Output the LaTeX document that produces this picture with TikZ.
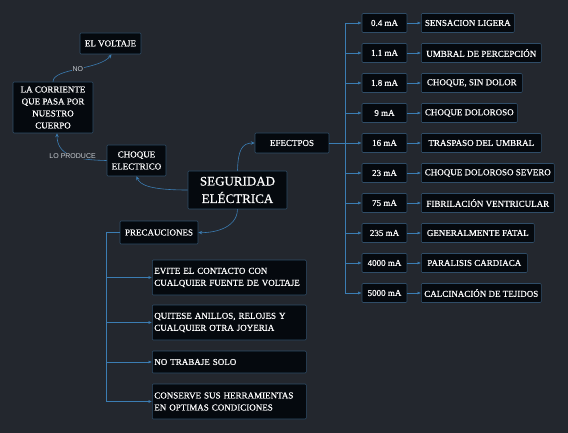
\documentclass[tikz,border=0pt]{standalone}
\usepackage{fontspec}
\setmainfont{Liberation Serif}
\setsansfont{Liberation Sans}
\newfontfamily\boxfont{Liberation Serif}[BoldFont=Liberation Serif,BoldFeatures={FakeBold=0.5}]
\usetikzlibrary{arrows.meta}
\definecolor{BgClr}{HTML}{23272E}
\definecolor{BoxClr}{HTML}{05090E}
\definecolor{EdgeClr}{HTML}{2F4D68}
\definecolor{LinkClr}{HTML}{3B7DB3}
\definecolor{LblClr}{HTML}{C8CDD2}

\tikzset{
  box/.style={draw=EdgeClr,fill=BoxClr,text=white,line width=0.6pt,rounded corners=1pt,
    inner sep=2pt,font=\boxfont\bfseries\fontsize{9}{12}\selectfont,align=center},
  link/.style={draw=LinkClr,line width=0.6pt,-{Stealth[length=4pt,width=3.5pt,inset=1.5pt]}},
  bus/.style={draw=LinkClr,line width=0.6pt},
  branch/.style={bus,-{Latex[length=3.5pt,width=3pt]}},
  lbl/.style={fill=BgClr,text=LblClr,inner sep=1pt,font=\sffamily\fontsize{7}{8}\selectfont}
}

\begin{document}
\begin{tikzpicture}[x=1pt,y=-1pt]
\fill[BgClr] (0,0) rectangle (568,433);
\useasboundingbox (0,0) rectangle (568,433);

\node[box,minimum width=61pt,minimum height=21pt] (V) at (110.5,43.5) {EL VOLTAJE};
\node[box,minimum width=80pt,minimum height=51pt] (C) at (53,107.5) {LA CORRIENTE\\QUE PASA POR\\NUESTRO\\CUERPO};
\node[box,minimum width=59pt,minimum height=31pt] (Ch) at (136.5,160.5) {CHOQUE\\ELECTRICO};
\node[box,minimum width=99pt,minimum height=38pt,font=\boxfont\bfseries\fontsize{13}{17.5}\selectfont] (S) at (237.5,190) {SEGURIDAD\\ELÉCTRICA};
\node[box,minimum width=74pt,minimum height=20pt] (E) at (292,143) {EFECTPOS};
\node[box,minimum width=78pt,minimum height=23pt] (Pr) at (159,232.5) {PRECAUCIONES};

\node[box,anchor=west,text width=150pt,align=left,minimum height=35pt] (P1) at (152,277.5) {EVITE EL CONTACTO CON\\CUALQUIER FUENTE DE VOLTAJE};
\node[box,anchor=west,text width=150pt,align=left,minimum height=35pt] (P2) at (152,322.5) {QUITESE ANILLOS, RELOJES Y\\CUALQUIER OTRA JOYERIA};
\node[box,anchor=west,text width=150pt,align=left,minimum height=22pt] (P3) at (152,362) {NO TRABAJE SOLO};
\node[box,anchor=west,text width=150pt,align=left,minimum height=35pt] (P4) at (152,401.5) {CONSERVE SUS HERRAMIENTAS\\EN OPTIMAS CONDICIONES};

\coordinate (Eb) at (345,143);
\coordinate (Pb) at (106,232.5);

\foreach \val/\txt/\bw [count=\i from 0] in {0.4 mA/SENSACION LIGERA/93,1.1 mA/UMBRAL DE PERCEPCIÓN/120,
  1.8 mA/{CHOQUE, SIN DOLOR}/101,9 mA/CHOQUE DOLOROSO/96,16 mA/TRASPASO DEL UMBRAL/120,
  23 mA/CHOQUE DOLOROSO SEVERO/133,75 mA/FIBRILACIÓN VENTRICULAR/133,235 mA/GENERALMENTE FATAL/113,
  4000 mA/PARALISIS CARDIACA/106,5000 mA/CALCINACIÓN DE TEJIDOS/120}{
  \node[box,minimum width=45pt,minimum height=19pt] (M\i) at (384.5,23+30*\i) {\val};
  \node[box,anchor=west,minimum width=\bw pt,minimum height=19pt] (T\i) at (421,23+30*\i) {\txt};
  \draw[branch] (Eb |- M\i) -- (M\i.west);
  \draw[branch] (M\i.east) -- (T\i.west);
}

\draw[bus] (E.east) -- (Eb);
\draw[bus] (Eb |- M0) -- (Eb |- M9);

\draw[bus] (Pr.west) -- (Pb) -- (Pb |- P4);
\foreach \p in {P1,P2,P3,P4}
  \draw[branch] (Pb |- \p) -- (\p.west);

\draw[link] (S.north) .. controls (238,150) and (242,143) .. (E.west);
\draw[link] (S.west) .. controls (150,190) and (140,185) .. (Ch.south);
\draw[link] (S.south) .. controls (237,230) and (210,233) .. (Pr.east);
\draw[link] (Ch.west) .. controls (75,160) and (57,155) .. node[lbl,pos=0.45] {LO PRODUCE} ([xshift=4pt]C.south);
\draw[link] (C.north) .. controls (53,68) and (100,70) .. node[lbl,pos=0.5] {NO} ([xshift=1pt]V.south);

\end{tikzpicture}
\end{document}
